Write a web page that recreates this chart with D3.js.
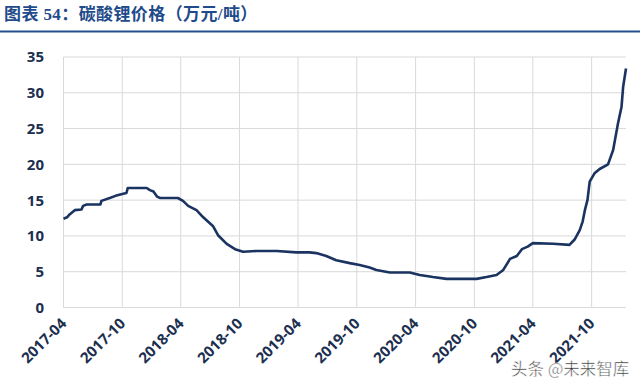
<!DOCTYPE html>
<html>
<head>
<meta charset="utf-8">
<script src="https://cdn.jsdelivr.net/npm/d3@7"></script>
<style>
  body { margin: 0; background: #fff; }
  svg { display: block; }
</style>
</head>
<body>
<div id="chart"></div>
<script>
// price of lithium carbonate, 10k yuan / ton
var dates = [
  "2017-04-01", "2017-04-12", "2017-04-20", "2017-05-06", "2017-05-27", "2017-06-01",
  "2017-06-12", "2017-07-25", "2017-07-28", "2017-08-23", "2017-09-10", "2017-10-04",
  "2017-10-14", "2017-10-18", "2017-12-16", "2017-12-26", "2018-01-06", "2018-01-17",
  "2018-01-27", "2018-03-23", "2018-04-08", "2018-04-24", "2018-05-20", "2018-06-10",
  "2018-07-10", "2018-07-26", "2018-08-22", "2018-09-17", "2018-10-12", "2018-11-24",
  "2019-01-25", "2019-03-27", "2019-05-07", "2019-05-28", "2019-06-28", "2019-07-29",
  "2019-09-09", "2019-10-10", "2019-11-10", "2019-12-01", "2020-01-12", "2020-03-14",
  "2020-04-14", "2020-05-25", "2020-07-06", "2020-10-08", "2020-11-08", "2020-12-09",
  "2020-12-30", "2021-01-20", "2021-02-10", "2021-02-26", "2021-03-16", "2021-04-01",
  "2021-06-03", "2021-07-24", "2021-08-09", "2021-08-25", "2021-09-03", "2021-09-10",
  "2021-09-18", "2021-09-25", "2021-10-10", "2021-10-26", "2021-11-21", "2021-12-07",
  "2021-12-22", "2022-01-02", "2022-01-07", "2022-01-16"
];
var prices = [
  12.4, 12.6, 13.0, 13.6, 13.7, 14.2,
  14.4, 14.4, 14.9, 15.3, 15.6, 15.9,
  16.0, 16.7, 16.7, 16.4, 16.2, 15.5,
  15.3, 15.3, 14.9, 14.2, 13.6, 12.6,
  11.4, 10.1, 8.9, 8.15, 7.8, 7.9,
  7.9, 7.7, 7.7, 7.6, 7.2, 6.6,
  6.2, 5.95, 5.6, 5.25, 4.9, 4.9,
  4.55, 4.25, 4.0, 4.0, 4.25, 4.55,
  5.25, 6.8, 7.2, 8.15, 8.5, 9.0,
  8.9, 8.75, 9.5, 10.8, 12.0, 13.6,
  15.0, 17.6, 18.75, 19.35, 20.0, 22.0,
  25.7, 28.0, 30.8, 33.4
];
var xTickLabels = ["2017-04", "2017-10", "2018-04", "2018-10", "2019-04",
                   "2019-10", "2020-04", "2020-10", "2021-04", "2021-10"];
var yTicks = [0, 5, 10, 15, 20, 25, 30, 35];

var title = "图表 54：碳酸锂价格（万元/吨）";
var watermark = "头条 @未来智库";

var W = 640, H = 387;
var margin = {top: 57, right: 14, bottom: 79.5, left: 63.5};

var parse = d3.timeParse("%Y-%m-%d");
var parseMonth = d3.timeParse("%Y-%m");
var data = dates.map(function(d, i) { return {date: parse(d), value: prices[i]}; });

var svg = d3.select("#chart")
  .append("svg")
    .attr("width", W)
    .attr("height", H);

var x = d3.scaleTime()
    .domain([parse("2017-04-01"), parse("2022-01-16")])
    .range([margin.left, W - margin.right]);
var y = d3.scaleLinear()
    .domain([0, 35])
    .range([H - margin.bottom, margin.top]);

// title and the blue rule under it
svg.append("text")
    .attr("x", 4)
    .attr("y", 20)
    .attr("fill", "#1f4b8a")
    .style("font-family", "'Liberation Serif', 'Noto Sans CJK SC', serif")
    .style("font-weight", "bold")
    .style("font-size", "17px")
    .style("letter-spacing", "0.4px")
    .text(title);
svg.append("line")
    .attr("x1", 0).attr("x2", W)
    .attr("y1", 31.5).attr("y2", 31.5)
    .attr("stroke", "#24508f")
    .attr("stroke-width", 2);

// horizontal grid
svg.append("g")
  .selectAll("line")
  .data(yTicks)
  .enter()
  .append("line")
    .attr("x1", margin.left).attr("x2", W - margin.right)
    .attr("y1", function(d) { return y(d); })
    .attr("y2", function(d) { return y(d); })
    .attr("stroke", "#d9d9d9")
    .attr("stroke-width", 1);

// vertical grid at each tick
svg.append("g")
  .selectAll("line")
  .data(xTickLabels)
  .enter()
  .append("line")
    .attr("x1", function(d) { return x(parseMonth(d)); })
    .attr("x2", function(d) { return x(parseMonth(d)); })
    .attr("y1", y(0)).attr("y2", y(35))
    .attr("stroke", "#d9d9d9")
    .attr("stroke-width", 1);

// y labels
svg.append("g")
  .selectAll("text")
  .data(yTicks)
  .enter()
  .append("text")
    .attr("x", 44)
    .attr("y", function(d) { return y(d); })
    .attr("dy", "0.36em")
    .attr("text-anchor", "end")
    .attr("fill", "#1c2f4f")
    .style("font-family", "'Open Sans', sans-serif")
    .style("font-weight", "bold")
    .style("font-size", "15px")
    .text(function(d) { return d; });

// x labels, rotated
svg.append("g")
  .selectAll("text")
  .data(xTickLabels)
  .enter()
  .append("text")
    .attr("transform", function(d) { return "translate(" + (x(parseMonth(d)) + 4) + "," + (y(0) + 17) + ") rotate(-45)"; })
    .attr("text-anchor", "end")
    .attr("fill", "#1c2f4f")
    .style("font-family", "'Open Sans', sans-serif")
    .style("font-weight", "bold")
    .style("font-size", "15px")
    .text(function(d) { return d; });

// price line
var line = d3.line()
    .x(function(d) { return x(d.date); })
    .y(function(d) { return y(d.value); });
svg.append("path")
    .datum(data)
    .attr("fill", "none")
    .attr("stroke", "#1b3360")
    .attr("stroke-width", 2.6)
    .attr("stroke-linejoin", "round")
    .attr("d", line);

// watermark
svg.append("text")
    .attr("x", 511)
    .attr("y", 375)
    .attr("fill", "#333")
    .attr("stroke", "#fff")
    .attr("stroke-width", 0.5)
    .style("font-family", "'Noto Sans CJK SC', sans-serif")
    .style("font-size", "16.5px")
    .text(watermark);
</script>
</body>
</html>
